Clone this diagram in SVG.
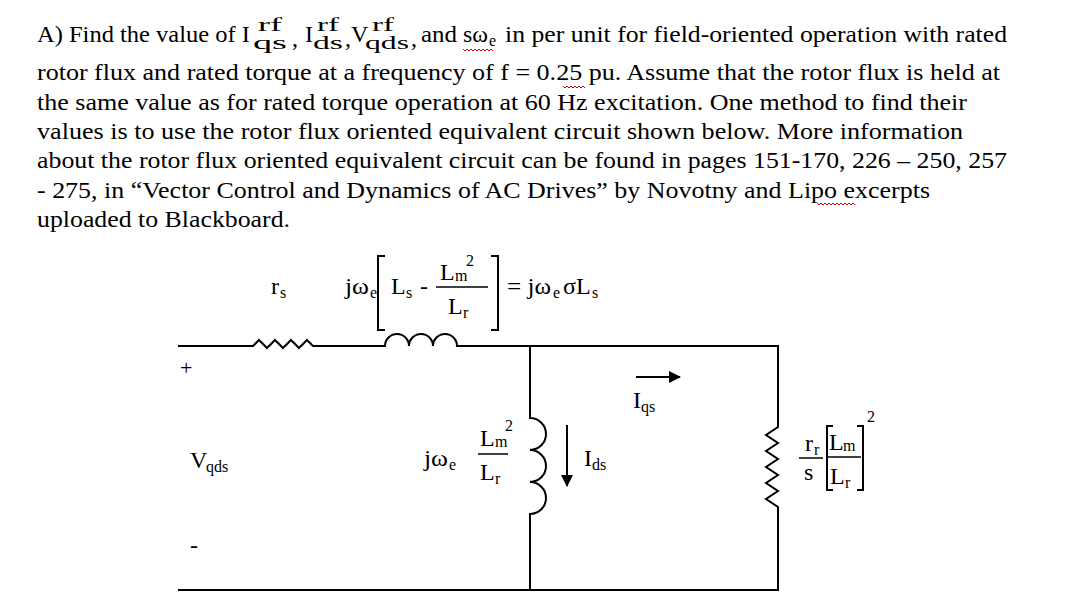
<svg xmlns="http://www.w3.org/2000/svg" width="1089" height="609" viewBox="0 0 1089 609">
<style>
text{font-family:"Liberation Serif","Times New Roman",serif;fill:#000}
.t{font-size:24px}
.sp{font-size:18px}
.m{font-size:24px}
.i{font-size:16px}
.w{stroke:#000;stroke-width:2;fill:none}
</style>
<defs><marker id="a" markerWidth="12" markerHeight="12" refX="11" refY="6" orient="auto" markerUnits="userSpaceOnUse"><path d="M0,0 L12,6 L0,12z"/></marker></defs>
<rect width="1089" height="609" fill="#fff"/>
<g id="text">
<text class="t" x="37" y="42" textLength="213" lengthAdjust="spacingAndGlyphs">A) Find the value of I</text>
<text class="sp" x="258" y="31" textLength="24" lengthAdjust="spacingAndGlyphs">rf</text><text class="sp" x="253" y="49" textLength="34" lengthAdjust="spacingAndGlyphs">qs</text><text class="t" x="292" y="46">,</text>
<text class="t" x="305" y="42">I</text><text class="sp" x="317" y="31" textLength="22" lengthAdjust="spacingAndGlyphs">rf</text><text class="sp" x="313" y="49" textLength="30" lengthAdjust="spacingAndGlyphs">ds</text><text class="t" x="345" y="46">,</text>
<text class="t" x="351" y="42">V</text><text class="sp" x="372" y="31" textLength="22" lengthAdjust="spacingAndGlyphs">rf</text><text class="sp" x="365" y="49" textLength="44" lengthAdjust="spacingAndGlyphs">qds</text><text class="t" x="411" y="46">,</text>
<text class="t" x="421" y="42" textLength="36" lengthAdjust="spacingAndGlyphs">and</text>
<text class="t" x="463" y="42" textLength="25" lengthAdjust="spacingAndGlyphs">sω</text><text class="i" x="489" y="46">e</text>
<text class="t" x="505" y="42" textLength="502" lengthAdjust="spacingAndGlyphs">in per unit for field-oriented operation with rated</text>
<text class="t" x="37" y="80" textLength="963" lengthAdjust="spacingAndGlyphs">rotor flux and rated torque at a frequency of f = 0.25 pu.  Assume that the rotor flux is held at</text>
<text class="t" x="37" y="110" textLength="930" lengthAdjust="spacingAndGlyphs">the same value as for rated torque operation at 60 Hz excitation.  One method to find their</text>
<text class="t" x="37" y="139" textLength="926" lengthAdjust="spacingAndGlyphs">values is to use the rotor flux oriented equivalent circuit shown below.  More information</text>
<text class="t" x="37" y="168" textLength="970" lengthAdjust="spacingAndGlyphs">about the rotor flux oriented equivalent circuit can be found in pages 151-170, 226 – 250, 257</text>
<text class="t" x="37" y="198" textLength="893" lengthAdjust="spacingAndGlyphs">- 275, in “Vector Control and Dynamics of AC Drives” by Novotny and Lipo excerpts</text>
<text class="t" x="37" y="227" textLength="253" lengthAdjust="spacingAndGlyphs">uploaded to Blackboard.</text>
<path d="M463,49 l2,2 2,-2 2,2 2,-2 2,2 2,-2 2,2 2,-2 2,2 2,-2 2,2 2,-2 2,2 2,-2 2,2 M563,86 l2,2 2,-2 2,2 2,-2 2,2 2,-2 2,2 2,-2 2,2 2,-2 2,2 M817,203 l2,2 2,-2 2,2 2,-2 2,2 2,-2 2,2 2,-2 2,2 2,-2 2,2 2,-2 2,2 2,-2 2,2 2,-2 2,2 2,-2 2,2" stroke="#c00" fill="none" stroke-width="1"/>
</g>
<g id="labels">
<text class="m" x="271" y="294">r</text><text class="i" x="280" y="298">s</text>
<text class="m" x="345" y="294" textLength="24" lengthAdjust="spacingAndGlyphs">jω</text><text class="i" x="370" y="298">e</text>
<path d="M385,256 h-7 v74 h7 M491,256 h7 v74 h-7" class="w" stroke-width="1.5"/>
<text class="m" x="391" y="294">L</text><text class="i" x="406" y="298">s</text><text class="m" x="420" y="294">-</text>
<text class="m" x="440" y="280">L</text><text class="i" x="455" y="281">m</text>
<text class="i" x="466" y="266">2</text>
<line x1="436" y1="287" x2="488" y2="287" stroke="#000" stroke-width="1.5"/>
<text class="m" x="448" y="314">L</text><text class="i" x="463" y="318">r</text>
<text class="m" x="507" y="294" textLength="44" lengthAdjust="spacingAndGlyphs">= jω</text><text class="i" x="553" y="298">e</text><text class="m" x="563" y="294">σL</text><text class="i" x="592" y="298">s</text>
<text font-size="22" x="180" y="375">+</text>
<text font-size="24" x="190" y="553" font-family="Liberation Sans">-</text>
<text class="m" x="190" y="468">V</text><text class="i" x="206" y="472">qds</text>
<text class="m" x="424" y="466" textLength="24" lengthAdjust="spacingAndGlyphs">jω</text><text class="i" x="449" y="470">e</text>
<text class="m" x="480" y="446">L</text><text class="i" x="495" y="447">m</text>
<text class="i" x="505" y="431">2</text>
<line x1="478" y1="454" x2="508" y2="454" stroke="#000" stroke-width="1.5"/>
<text class="m" x="480" y="480">L</text><text class="i" x="495" y="484">r</text>
<text class="m" x="584" y="466">I</text><text class="i" x="592" y="470">ds</text>
<text class="m" x="633" y="408">I</text><text class="i" x="641" y="412">qs</text>
<text class="m" x="805" y="451">r</text><text class="i" x="814" y="455">r</text>
<line x1="799" y1="458" x2="823" y2="458" stroke="#000" stroke-width="1.5"/>
<text class="m" x="804" y="480">s</text>
<path d="M833,426 h-6 v64 h6 M857,426 h6 v64 h-6" class="w" stroke-width="1.5"/>
<text class="m" x="829" y="450">L</text><text class="i" x="843" y="451">m</text>
<line x1="828" y1="457" x2="861" y2="457" stroke="#000" stroke-width="1.5"/>
<text class="m" x="830" y="484">L</text><text class="i" x="845" y="488">r</text>
<text class="i" x="867" y="422">2</text>
</g>
<g id="connectors">
<path class="w" d="M178,346 H253 l6,-6 8,8 8,-8 8,8 8,-8 8,8 8,-8 6,6 H385 a12,12 0 0 1 24,0 a12,12 0 0 1 24,0 a12,12 0 0 1 24,0 H778 V427 l-12,8 12,8 -12,8 12,8 -12,8 12,8 -12,8 12,8 -12,8 12,8 V590 H178"/>
<path class="w" d="M530,346 V418 a16,16 0 0 1 0,32 a16,16 0 0 1 0,32 a16,16 0 0 1 0,32 V590"/>
<line x1="567" y1="425" x2="567" y2="486" stroke="#000" stroke-width="2" marker-end="url(#a)"/>
<line x1="636" y1="377" x2="680" y2="377" stroke="#000" stroke-width="2" marker-end="url(#a)"/>
</g>
</svg>
